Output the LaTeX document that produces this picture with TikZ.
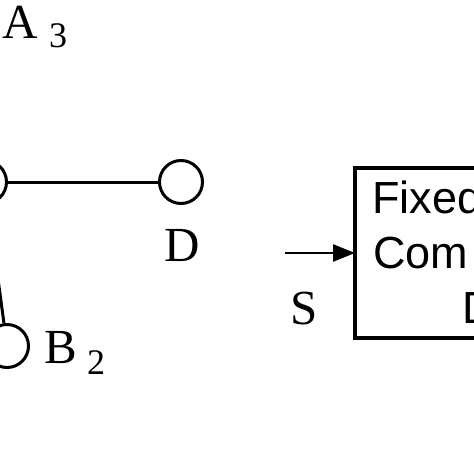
\documentclass[tikz,border=0pt]{standalone}
\usepackage{fontspec}
\setmainfont{Liberation Serif}
\newfontfamily\arialf{Liberation Sans}
\usetikzlibrary{arrows.meta}
\begin{document}
\begin{tikzpicture}[x=1pt,y=-1pt,
  vertex/.style={circle,draw,line width=3pt,minimum size=43pt,inner sep=0pt},
  edge/.style={line width=3pt},
  lbl/.style={anchor=base west,inner sep=0pt,font=\fontsize{49}{49}\selectfont},
  subl/.style={anchor=base west,inner sep=0pt,font=\fontsize{36}{36}\selectfont},
  boxtxt/.style={anchor=base west,inner sep=0pt,font=\arialf\fontsize{45}{45}\selectfont},
  blk/.style={draw,line width=3.2pt,outer sep=0pt,inner sep=0pt,anchor=north west}]
\useasboundingbox (0,0) rectangle (474,474);
\clip (0,0) rectangle (474,474);
% graph
\node[vertex] (L) at (-15,182) {};
\node[vertex] (Dn) at (181,182) {};
\node[vertex] (B2) at (7,346) {};
\draw[edge] (L) -- (Dn);
\draw[edge] (L) -- (B2);
% labels
\node[lbl] (lA) at (2,38) {A};
\node[subl] (lA3) at (49,47) {3};
\node[lbl] (lD) at (164,261) {D};
\node[lbl] (lB) at (44,363) {B};
\node[subl] (lB2) at (87,374) {2};
\node[lbl] (lS) at (290,324) {S};
% block
\node[blk,minimum width=170pt,minimum height=170pt] (box) at (355,168) {};
\coordinate (sin) at (285,253);
\draw[line width=2.8pt,-{Triangle[length=22pt,width=17pt]}] (sin) -- (box.west);
\node[boxtxt] (t1) at (372,213) {Fixed};
\node[boxtxt] (t2) at (373,268) {Com};
\node[boxtxt] (t3) at (462,323) {D};
\end{tikzpicture}
\end{document}
